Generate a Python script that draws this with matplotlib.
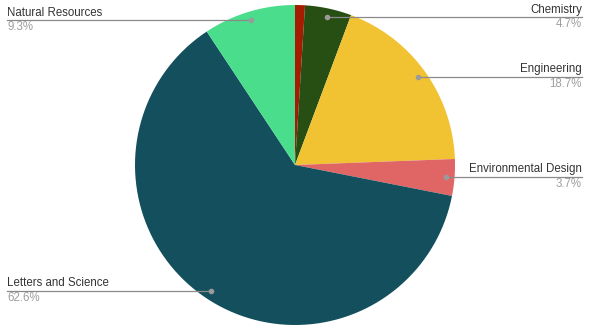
import numpy as np
import matplotlib.pyplot as plt

plt.rcParams['font.family'] = ['Liberation Sans', 'DejaVu Sans']

# slices clockwise from 12 o'clock
labels = ['', 'Chemistry', 'Engineering', 'Environmental Design',
          'Letters and Science', 'Natural Resources']
values = [1.0, 4.7, 18.7, 3.7, 62.6, 9.3]
colors = ['#a61c00', '#274e13', '#f1c232', '#e06666', '#134f5c', '#4ade8c']

W, H = 591, 328
fig = plt.figure(figsize=(W / 100, H / 100), dpi=100)
ax = fig.add_axes([0, 0, 1, 1])
ax.set_xlim(0, W)
ax.set_ylim(H, 0)   # pixel coords, y down
ax.set_aspect('equal')
ax.axis('off')

cx, cy, r = 295, 165, 160

total = sum(values)
start = 0.0
for lab, v, c in zip(labels, values, colors):
    a0 = start / total * 360
    a1 = (start + v) / total * 360
    start += v
    # angle clockwise from top
    th = np.radians(np.linspace(a0, a1, 100))
    xs = np.concatenate([[cx], cx + r * np.sin(th)])
    ys = np.concatenate([[cy], cy - r * np.cos(th)])
    ax.fill(xs, ys, color=c, lw=0)
    if not lab:
        continue
    mid = np.radians((a0 + a1) / 2)
    dx = cx + 0.945 * r * np.sin(mid)
    dy = cy - 0.945 * r * np.cos(mid)
    right = np.sin(mid) > 0
    x_end = 582 if right else 7
    ax.plot([dx, x_end], [dy, dy], color='#8a8a8a', lw=0.9, zorder=3)
    ax.plot(dx, dy, 'o', color='#9a9a9a', ms=3, zorder=4)
    ha = 'right' if right else 'left'
    ax.text(x_end, dy - 1.5, lab, ha=ha, va='bottom', fontsize=8.3, color='#333333')
    ax.text(x_end, dy + 1, f'{v}%', ha=ha, va='top', fontsize=8.3, color='#9e9e9e')

fig.savefig('out.png', dpi=100, facecolor='white')
